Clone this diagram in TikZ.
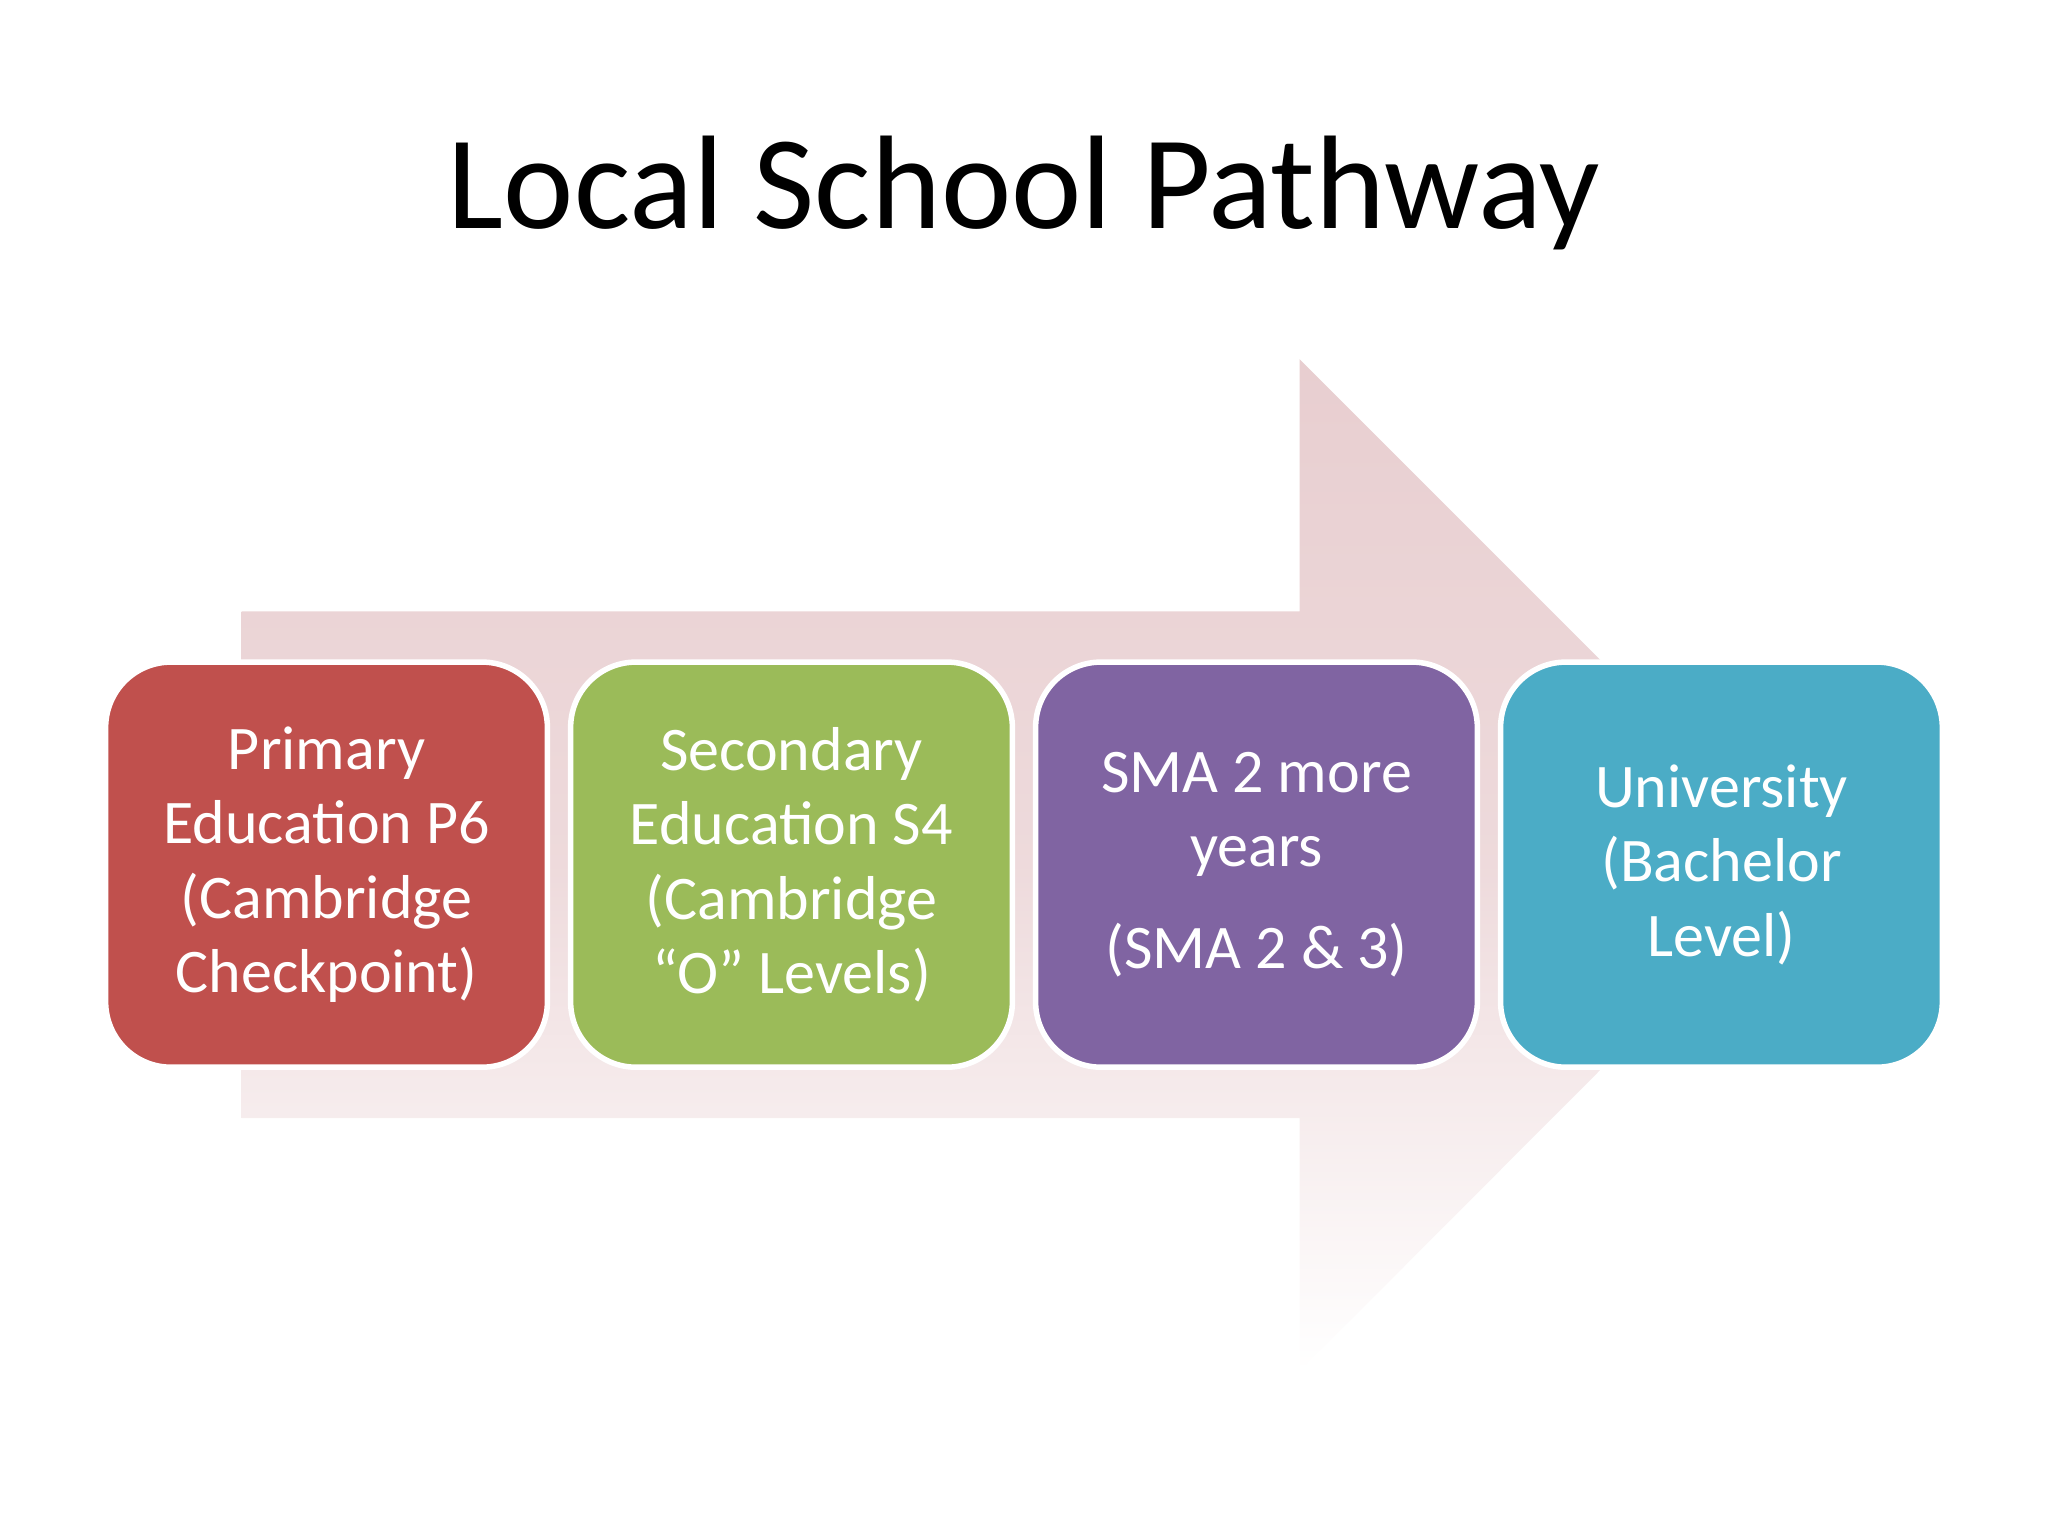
\documentclass[tikz,border=0pt]{standalone}
\usepackage{fontspec}
\setmainfont{Carlito}
\begin{document}
\begin{tikzpicture}[x=0.01cm,y=-0.01cm,
  box/.style={draw=white,line width=1.2pt,rounded corners=0.5cm,text=white,align=center,
    font=\fontsize{13.5}{16.2}\selectfont,minimum width=3.38cm,minimum height=3.1cm,inner sep=0pt}]
\useasboundingbox (0,0) rectangle (1568,1176);
\definecolor{c1}{HTML}{C0504D}\definecolor{c2}{HTML}{9BBB59}
\definecolor{c3}{HTML}{8064A2}\definecolor{c4}{HTML}{4BACC6}
\definecolor{pk}{RGB}{232,206,208}
\node[font=\fontsize{29}{34}\selectfont] (title) at (784,148) {Local School Pathway};
\shade[top color=pk,bottom color=white,middle color=pk!75!white,shading angle=0]
  (185,468) -- (995,468) -- (995,275) -- (1382,662) -- (995,1050) -- (995,856) -- (185,856) -- cycle;
\node[box,fill=c1] (a) at (250,662) {Primary\\Education P6\\(Cambridge\\Checkpoint)};
\node[box,fill=c2] (b) at (606,662) {Secondary\\Education S4\\(Cambridge\\“O” Levels)};
\node[box,fill=c3] (c) at (962,662) {SMA 2 more\\years\\[6pt](SMA 2 \& 3)};
\node[box,fill=c4] (d) at (1318,662) {University\\(Bachelor\\Level)};
\end{tikzpicture}
\end{document}
